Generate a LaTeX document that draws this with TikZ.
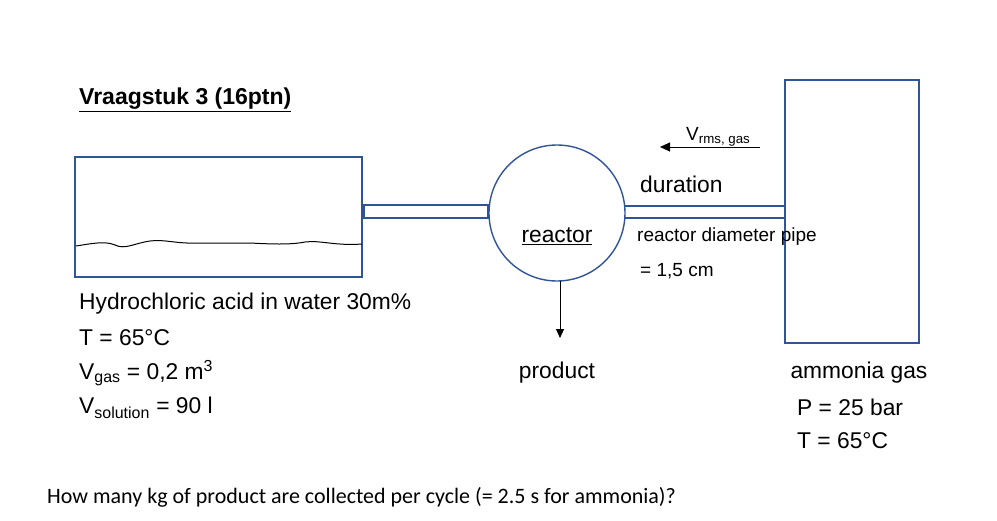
\documentclass[tikz,border=0pt]{standalone}
\usepackage{fontspec}
\setmainfont{Liberation Sans}
\newfontfamily\calib{Carlito}
\usetikzlibrary{arrows.meta}
\definecolor{boxblue}{HTML}{2F5597}
\begin{document}
\begin{tikzpicture}[x=1pt,y=-1pt,
  bluebox/.style={draw=boxblue,line width=1.4pt},
  txt/.style={font=\fontsize{22.8}{26}\selectfont,inner sep=0pt},
  stxt/.style={font=\fontsize{19}{22}\selectfont,inner sep=0pt}]
\useasboundingbox (0,0) rectangle (997,520);
\node[txt,anchor=west,font=\fontsize{23}{26}\selectfont\bfseries] (title) at (79,100) {\underline{Vraagstuk 3 (16ptn)}};
\draw[bluebox] (75,157) rectangle (362,277);
\draw[line width=1pt] (76,246) .. controls (95,243) and (105,241) .. (115,245) .. controls (125,250) and (135,243) .. (150,241) .. controls (165,239) and (175,244) .. (200,243) -- (250,243) .. controls (270,244) and (290,245) .. (305,242) .. controls (320,240) and (335,246) .. (362,244);
\draw[bluebox] (364,205) rectangle (488,218);
\node[circle,bluebox,minimum size=136pt,inner sep=0pt] (reactor) at (557,213) {};
\node[txt] (rlabel) at (557,236) {\underline{reactor}};
\draw[bluebox] (625,206) -- (785,206);
\draw[bluebox] (625,218) -- (785,218);
\draw[bluebox] (785,80) rectangle (919,343);
\coordinate (prodend) at (560,338);
\draw[-{Triangle[length=9pt,width=8pt]},line width=0.9pt] (560,281) -- (prodend);
\node[txt] (product) at (557,373) {product};
\coordinate (va) at (760,147); \coordinate (vb) at (660,147);
\draw[-{Triangle[length=10pt,width=9pt]},line width=0.9pt] (va) -- (vb);
\node[stxt,anchor=west] (vrms) at (686,137) {V\textsubscript{rms, gas}};
\node[txt,anchor=west] (dur) at (640,184) {duration};
\node[stxt,anchor=west] (diam) at (637,237) {reactor diameter pipe};
\node[stxt,anchor=west] (cm) at (640,271) {= 1,5 cm};
\node[txt,anchor=west] (l1) at (79,304) {Hydrochloric acid in water 30m\%};
\node[txt,anchor=west] (l2) at (79,338) {T = 65°C};
\node[txt,anchor=west] (l3) at (79,373) {V\textsubscript{gas} = 0,2 m\textsuperscript{3}};
\node[txt,anchor=west] (l4) at (79,408) {V\textsubscript{solution} = 90 l};
\node[txt] (amm) at (859,373) {ammonia gas};
\node[txt,anchor=west] (p) at (797,407) {P = 25 bar};
\node[txt,anchor=west] (t) at (797,441) {T = 65°C};
\node[anchor=west,inner sep=0pt,font=\calib\fontsize{22}{25}\selectfont] (q) at (47,497) {How many kg of product are collected per cycle (= 2.5 s for ammonia)?};
\end{tikzpicture}
\end{document}
